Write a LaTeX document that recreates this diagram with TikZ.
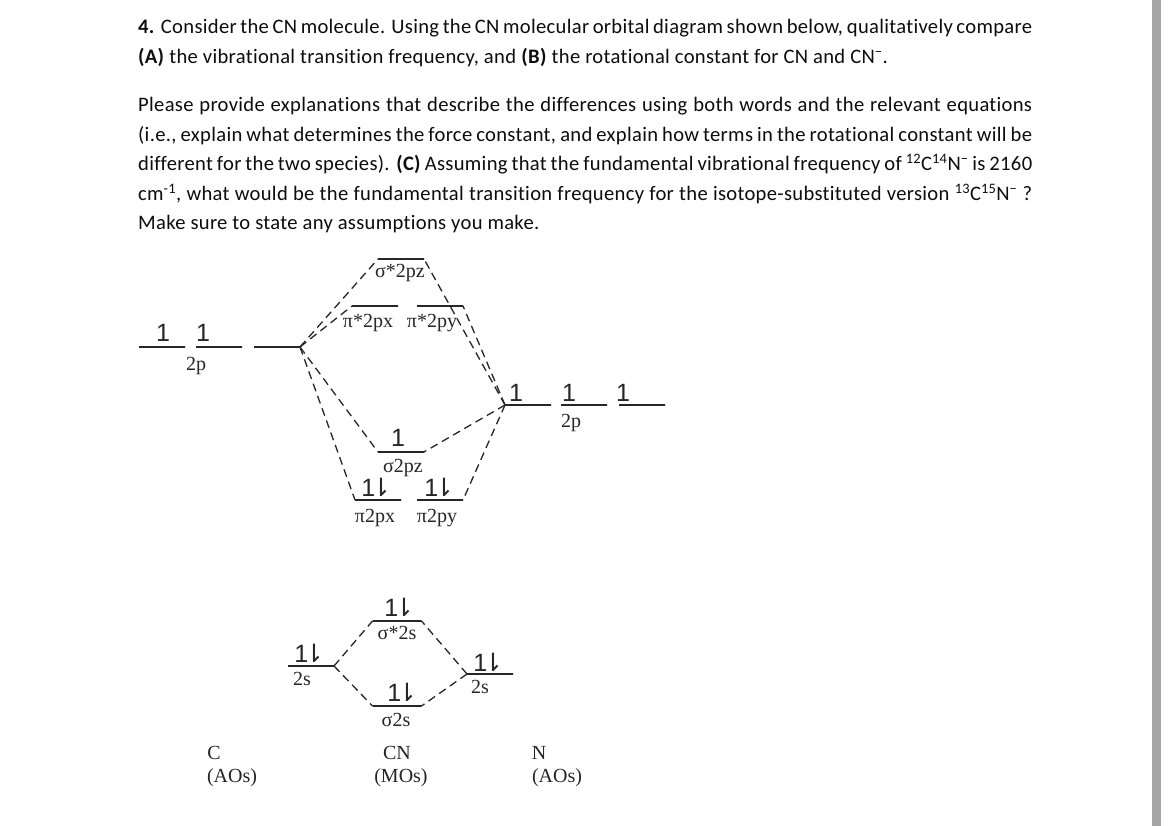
\documentclass[tikz,border=0pt]{standalone}
\usepackage{fontspec}
\setmainfont{Carlito}[Ligatures=NoCommon,LetterSpace=1.5]
\newfontfamily\lblfont{Liberation Serif}
\newfontfamily\elfont{Liberation Sans}
\newfontfamily\symfont{DejaVu Sans}
\newcommand{\qsize}{\fontsize{20.6}{25}\selectfont}
\newcommand{\upel}{{\elfont 1}}
\newcommand{\pairel}{{\elfont 1}\kern-4.5pt{\symfont\fontsize{25}{25}\selectfont ⇂}\kern-3pt}
\newcommand{\qline}[1]{\hbox to 894pt{\qsize #1}}
\tikzset{
  x=1pt,y=-1pt,
  level/.style={draw=black!85,line width=1.1pt,inner sep=0pt,minimum height=0pt,outer sep=0pt,minimum width=46pt},
  link/.style={draw=black!85,line width=1.3pt,dash pattern=on 8pt off 5pt},
  lbl/.style={inner sep=0pt,font=\lblfont\fontsize{20}{22}\selectfont,text=black!85},
  el/.style={inner sep=0pt,font=\fontsize{25}{26}\selectfont,text=black!85},
  qtext/.style={inner sep=0pt,anchor=base west,text=black!95}
}
\begin{document}
\begin{tikzpicture}
\useasboundingbox (0,0) rectangle (1170,826);
\fill[white] (0,0) rectangle (1170,826);
\fill[black!35] (1152,0) rectangle (1161,826);
\node[qtext] (q1) at (138,34) {\qline{\textbf{4.} Consider the CN molecule. Using the CN molecular orbital diagram shown below, qualitatively compare}};
\node[qtext] (q2) at (138,64) {\qsize \textbf{(A)} the vibrational transition frequency, and \textbf{(B)} the rotational constant for CN and CN\textsuperscript{−}.};
\node[qtext] (q3) at (138,112) {\qline{Please provide explanations that describe the differences using both words and the relevant equations}};
\node[qtext] (q4) at (138,142) {\qline{(i.e., explain what determines the force constant, and explain how terms in the rotational constant will be}};
\node[qtext] (q5) at (138,171) {\qline{different for the two species). \textbf{(C)} Assuming that the fundamental vibrational frequency of \textsuperscript{12}C\textsuperscript{14}N\textsuperscript{−} is 2160}};
\node[qtext] (q6) at (138,201) {\qline{cm\textsuperscript{-1}, what would be the fundamental transition frequency for the isotope-substituted version \textsuperscript{13}C\textsuperscript{15}N\textsuperscript{−} ?}};
\node[qtext] (q7) at (138,230) {\qsize Make sure to state any assumptions you make.};
% levels
\node[level] (cpa) at (162,347) {};
\node[level] (cpb) at (219,347) {};
\node[level] (cpc) at (277,347) {};
\node[level] (sstar) at (401,259) {};
\node[level] (pxstar) at (375,306) {};
\node[level] (pystar) at (440,306) {};
\node[level] (sz) at (401,452) {};
\node[level] (px) at (378,500) {};
\node[level] (py) at (440,500) {};
\node[level] (npa) at (528,405) {};
\node[level] (npb) at (584,405) {};
\node[level] (npc) at (642,405) {};
\node[level] (cs) at (311,666) {};
\node[level,minimum width=49pt] (ssstar) at (397,621) {};
\node[level,minimum width=49pt] (ss) at (397,706) {};
\node[level] (ns) at (490,674) {};
% connectors
\foreach \t in {sstar,pxstar,sz,px} \draw[link] (cpc.east) -- (\t.west);
\foreach \t in {sstar,pystar,sz,py} \draw[link] (npa.west) -- (\t.east);
\foreach \t in {ssstar,ss} {\draw[link] (cs.east) -- (\t.west); \draw[link] (ns.west) -- (\t.east);}
% electrons
\node[el] (e1) at (163,333) {\upel};
\node[el] (e2) at (203,333) {\upel};
\node[el] (e3) at (398,438) {\upel};
\node[el] (e4) at (516,393) {\upel};
\node[el] (e5) at (569,393) {\upel};
\node[el] (e6) at (623,393) {\upel};
\node[el] (e7) at (375,487) {\pairel};
\node[el] (e8) at (438,487) {\pairel};
\node[el] (e9) at (398,607) {\pairel};
\node[el] (e10) at (308,653) {\pairel};
\node[el] (e11) at (401,692) {\pairel};
\node[el] (e12) at (487,662) {\pairel};
% labels
\node[lbl] (l1) at (196,366) {2p};
\node[lbl] (l2) at (400,273) {σ*2pz};
\node[lbl] (l3) at (368,323) {π*2px};
\node[lbl] (l4) at (432,323) {π*2py};
\node[lbl] (l5) at (403,468) {σ2pz};
\node[lbl] (l6) at (375,518) {π2px};
\node[lbl] (l7) at (437,518) {π2py};
\node[lbl] (l8) at (571,423) {2p};
\node[lbl] (l9) at (302,679) {2s};
\node[lbl] (l10) at (397,633) {σ*2s};
\node[lbl] (l11) at (396,720) {σ2s};
\node[lbl] (l12) at (480,687) {2s};
\node[lbl] (l13) at (214,753) {C};
\node[lbl] (l14) at (232,778) {(AOs)};
\node[lbl] (l15) at (397,753) {CN};
\node[lbl] (l16) at (401,778) {(MOs)};
\node[lbl] (l17) at (539,753) {N};
\node[lbl] (l18) at (557,778) {(AOs)};
\end{tikzpicture}
\end{document}
